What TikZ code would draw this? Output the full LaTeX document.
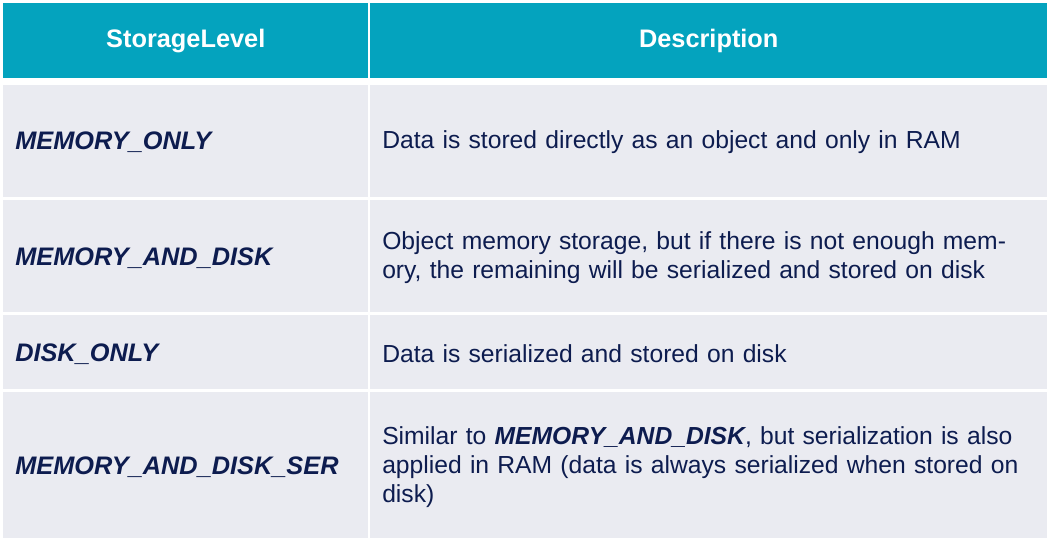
\documentclass[tikz,border=0pt]{standalone}
\usepackage{fontspec}
\setmainfont{Liberation Sans}
\definecolor{headteal}{HTML}{04A3BE}
\definecolor{cellgray}{HTML}{EAEBF1}
\definecolor{inkblue}{HTML}{0D1C4F}
\tikzset{
  head/.style={rectangle, anchor=north west, fill=headteal, text=white, font=\fontsize{19}{22}\selectfont\bfseries, minimum height=56.25pt, inner sep=0pt},
  lvl/.style={rectangle, anchor=west, text=inkblue, font=\fontsize{19}{22}\selectfont\bfseries\itshape, inner sep=0pt},
  desc/.style={rectangle, anchor=west, text=inkblue, font=\fontsize{18.5}{21.75}\selectfont, align=left, text width=482pt, inner sep=0pt},
  cell/.style={fill=cellgray, draw=none}
}
\begin{document}
\begin{tikzpicture}[x=0.75pt,y=-0.75pt]
\useasboundingbox (0,0) rectangle (1050,543);
\fill[white] (0,0) rectangle (1050,543);
% header
\node[head, minimum width=273.75pt] (h1) at (3,3) {StorageLevel};
\node[head, minimum width=507.75pt] (h2) at (370,3) {Description};
% cells
\fill[cell] (3,85) rectangle (368,197);
\fill[cell] (370,85) rectangle (1047,197);
\fill[cell] (3,200) rectangle (368,312);
\fill[cell] (370,200) rectangle (1047,312);
\fill[cell] (3,315) rectangle (368,389);
\fill[cell] (370,315) rectangle (1047,389);
\fill[cell] (3,392) rectangle (368,538);
\fill[cell] (370,392) rectangle (1047,538);
% rows
\node[lvl] (l1) at (15,142) {MEMORY\_ONLY};
\node[desc] (d1) at (382,142) {Data is stored directly as an object and only in RAM};
\node[lvl] (l2) at (15,258) {MEMORY\_AND\_DISK};
\node[desc] (d2) at (382,258) {Object memory storage, but if there is not enough memory, the remaining will be serialized and stored on disk};
\node[lvl] (l3) at (15,354) {DISK\_ONLY};
\node[desc] (d3) at (382,354) {Data is serialized and stored on disk};
\node[lvl] (l4) at (15,467) {MEMORY\_AND\_DISK\_SER};
\node[desc] (d4) at (382,467) {Similar to \textbf{\itshape MEMORY\_AND\_DISK}, but serialization is also applied in RAM (data is always serialized when stored on disk)};
\end{tikzpicture}
\end{document}
